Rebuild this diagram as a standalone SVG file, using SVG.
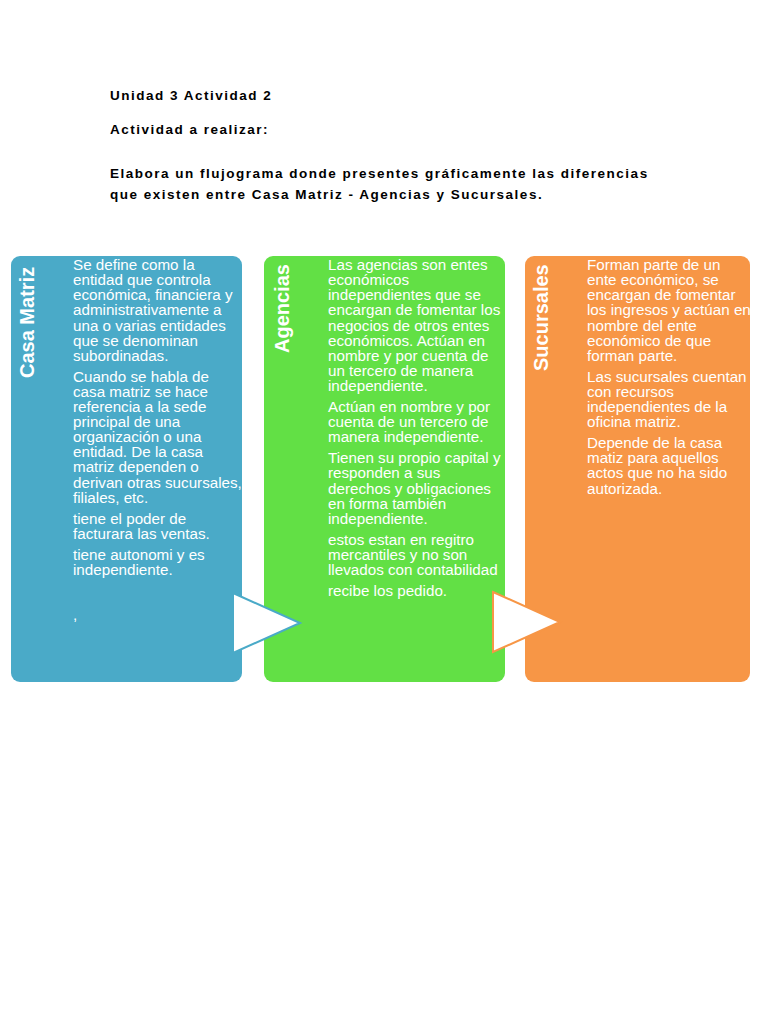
<svg xmlns="http://www.w3.org/2000/svg" width="768" height="1024" viewBox="0 0 768 1024">
<style>
.h{font-family:"Liberation Sans",Arial,sans-serif;font-size:13.5px;font-weight:bold;letter-spacing:1.5px;fill:#000}
.t{font-family:"Liberation Sans",Arial,sans-serif;font-size:15.2px;fill:#fff}
.v{font-family:"Liberation Sans",Arial,sans-serif;font-size:20px;font-weight:bold;fill:#fff}
</style>
<rect width="768" height="1024" fill="#fff"/>
<text class="h" x="110" y="100">Unidad 3 Actividad 2</text>
<text class="h" x="110" y="134">Actividad a realizar:</text>
<text class="h" x="110" y="178">Elabora un flujograma donde presentes gráficamente las diferencias</text>
<text class="h" x="110" y="199">que existen entre Casa Matriz - Agencias y Sucursales.</text>
<g id="casa">
<rect x="11" y="256" width="231" height="426" rx="9" fill="#4aaac8"/>
<text class="v" transform="translate(34,378) rotate(-90)">Casa Matriz</text>
<text class="t" x="73"><tspan x="73" y="270">Se define como la</tspan><tspan x="73" y="285">entidad que controla</tspan><tspan x="73" y="300">económica, financiera y</tspan><tspan x="73" y="315">administrativamente a</tspan><tspan x="73" y="331">una o varias entidades</tspan><tspan x="73" y="346">que se denominan</tspan><tspan x="73" y="361">subordinadas.</tspan>
<tspan x="73" y="382">Cuando se habla de</tspan><tspan x="73" y="397">casa matriz se hace</tspan><tspan x="73" y="412">referencia a la sede</tspan><tspan x="73" y="427">principal de una</tspan><tspan x="73" y="442">organización o una</tspan><tspan x="73" y="457">entidad. De la casa</tspan><tspan x="73" y="472">matriz dependen o</tspan><tspan x="73" y="488">derivan otras sucursales,</tspan><tspan x="73" y="503">filiales, etc.</tspan>
<tspan x="73" y="524">tiene el poder de</tspan><tspan x="73" y="539">facturara las ventas.</tspan>
<tspan x="73" y="560">tiene autonomi y es</tspan><tspan x="73" y="575">independiente.</tspan>
<tspan x="73" y="620">,</tspan></text>
</g>
<g id="agencias">
<rect x="264" y="256" width="241" height="426" rx="9" fill="#62e045"/>
<text class="v" transform="translate(289,353) rotate(-90)">Agencias</text>
<text class="t"><tspan x="328" y="270">Las agencias son entes</tspan><tspan x="328" y="285">económicos</tspan><tspan x="328" y="300">independientes que se</tspan><tspan x="328" y="315">encargan de fomentar los</tspan><tspan x="328" y="331">negocios de otros entes</tspan><tspan x="328" y="346">económicos. Actúan en</tspan><tspan x="328" y="361">nombre y por cuenta de</tspan><tspan x="328" y="376">un tercero de manera</tspan><tspan x="328" y="391">independiente.</tspan>
<tspan x="328" y="412">Actúan en nombre y por</tspan><tspan x="328" y="427">cuenta de un tercero de</tspan><tspan x="328" y="442">manera independiente.</tspan>
<tspan x="328" y="463">Tienen su propio capital y</tspan><tspan x="328" y="478">responden a sus</tspan><tspan x="328" y="494">derechos y obligaciones</tspan><tspan x="328" y="509">en forma también</tspan><tspan x="328" y="524">independiente.</tspan>
<tspan x="328" y="545">estos estan en regitro</tspan><tspan x="328" y="560">mercantiles y no son</tspan><tspan x="328" y="575">llevados con contabilidad</tspan>
<tspan x="328" y="596">recibe los pedido.</tspan></text>
</g>
<g id="sucursales">
<rect x="525" y="256" width="225" height="426" rx="9" fill="#f79646"/>
<text class="v" transform="translate(548,371) rotate(-90)">Sucursales</text>
<text class="t"><tspan x="587" y="270">Forman parte de un</tspan><tspan x="587" y="285">ente económico, se</tspan><tspan x="587" y="300">encargan de fomentar</tspan><tspan x="587" y="315">los ingresos y actúan en</tspan><tspan x="587" y="331">nombre del ente</tspan><tspan x="587" y="346">económico de que</tspan><tspan x="587" y="361">forman parte.</tspan>
<tspan x="587" y="382">Las sucursales cuentan</tspan><tspan x="587" y="397">con recursos</tspan><tspan x="587" y="412">independientes de la</tspan><tspan x="587" y="427">oficina matriz.</tspan>
<tspan x="587" y="448">Depende de la casa</tspan><tspan x="587" y="463">matiz para aquellos</tspan><tspan x="587" y="478">actos que no ha sido</tspan><tspan x="587" y="494">autorizada.</tspan></text>
</g>
<g id="connectors">
<polygon points="233,593 300,623 233,653" fill="#fff" stroke="#4aaac8" stroke-width="2"/>
<polygon points="493,592 560,622 493,652" fill="#fff" stroke="#f79646" stroke-width="2"/>
</g>
</svg>
